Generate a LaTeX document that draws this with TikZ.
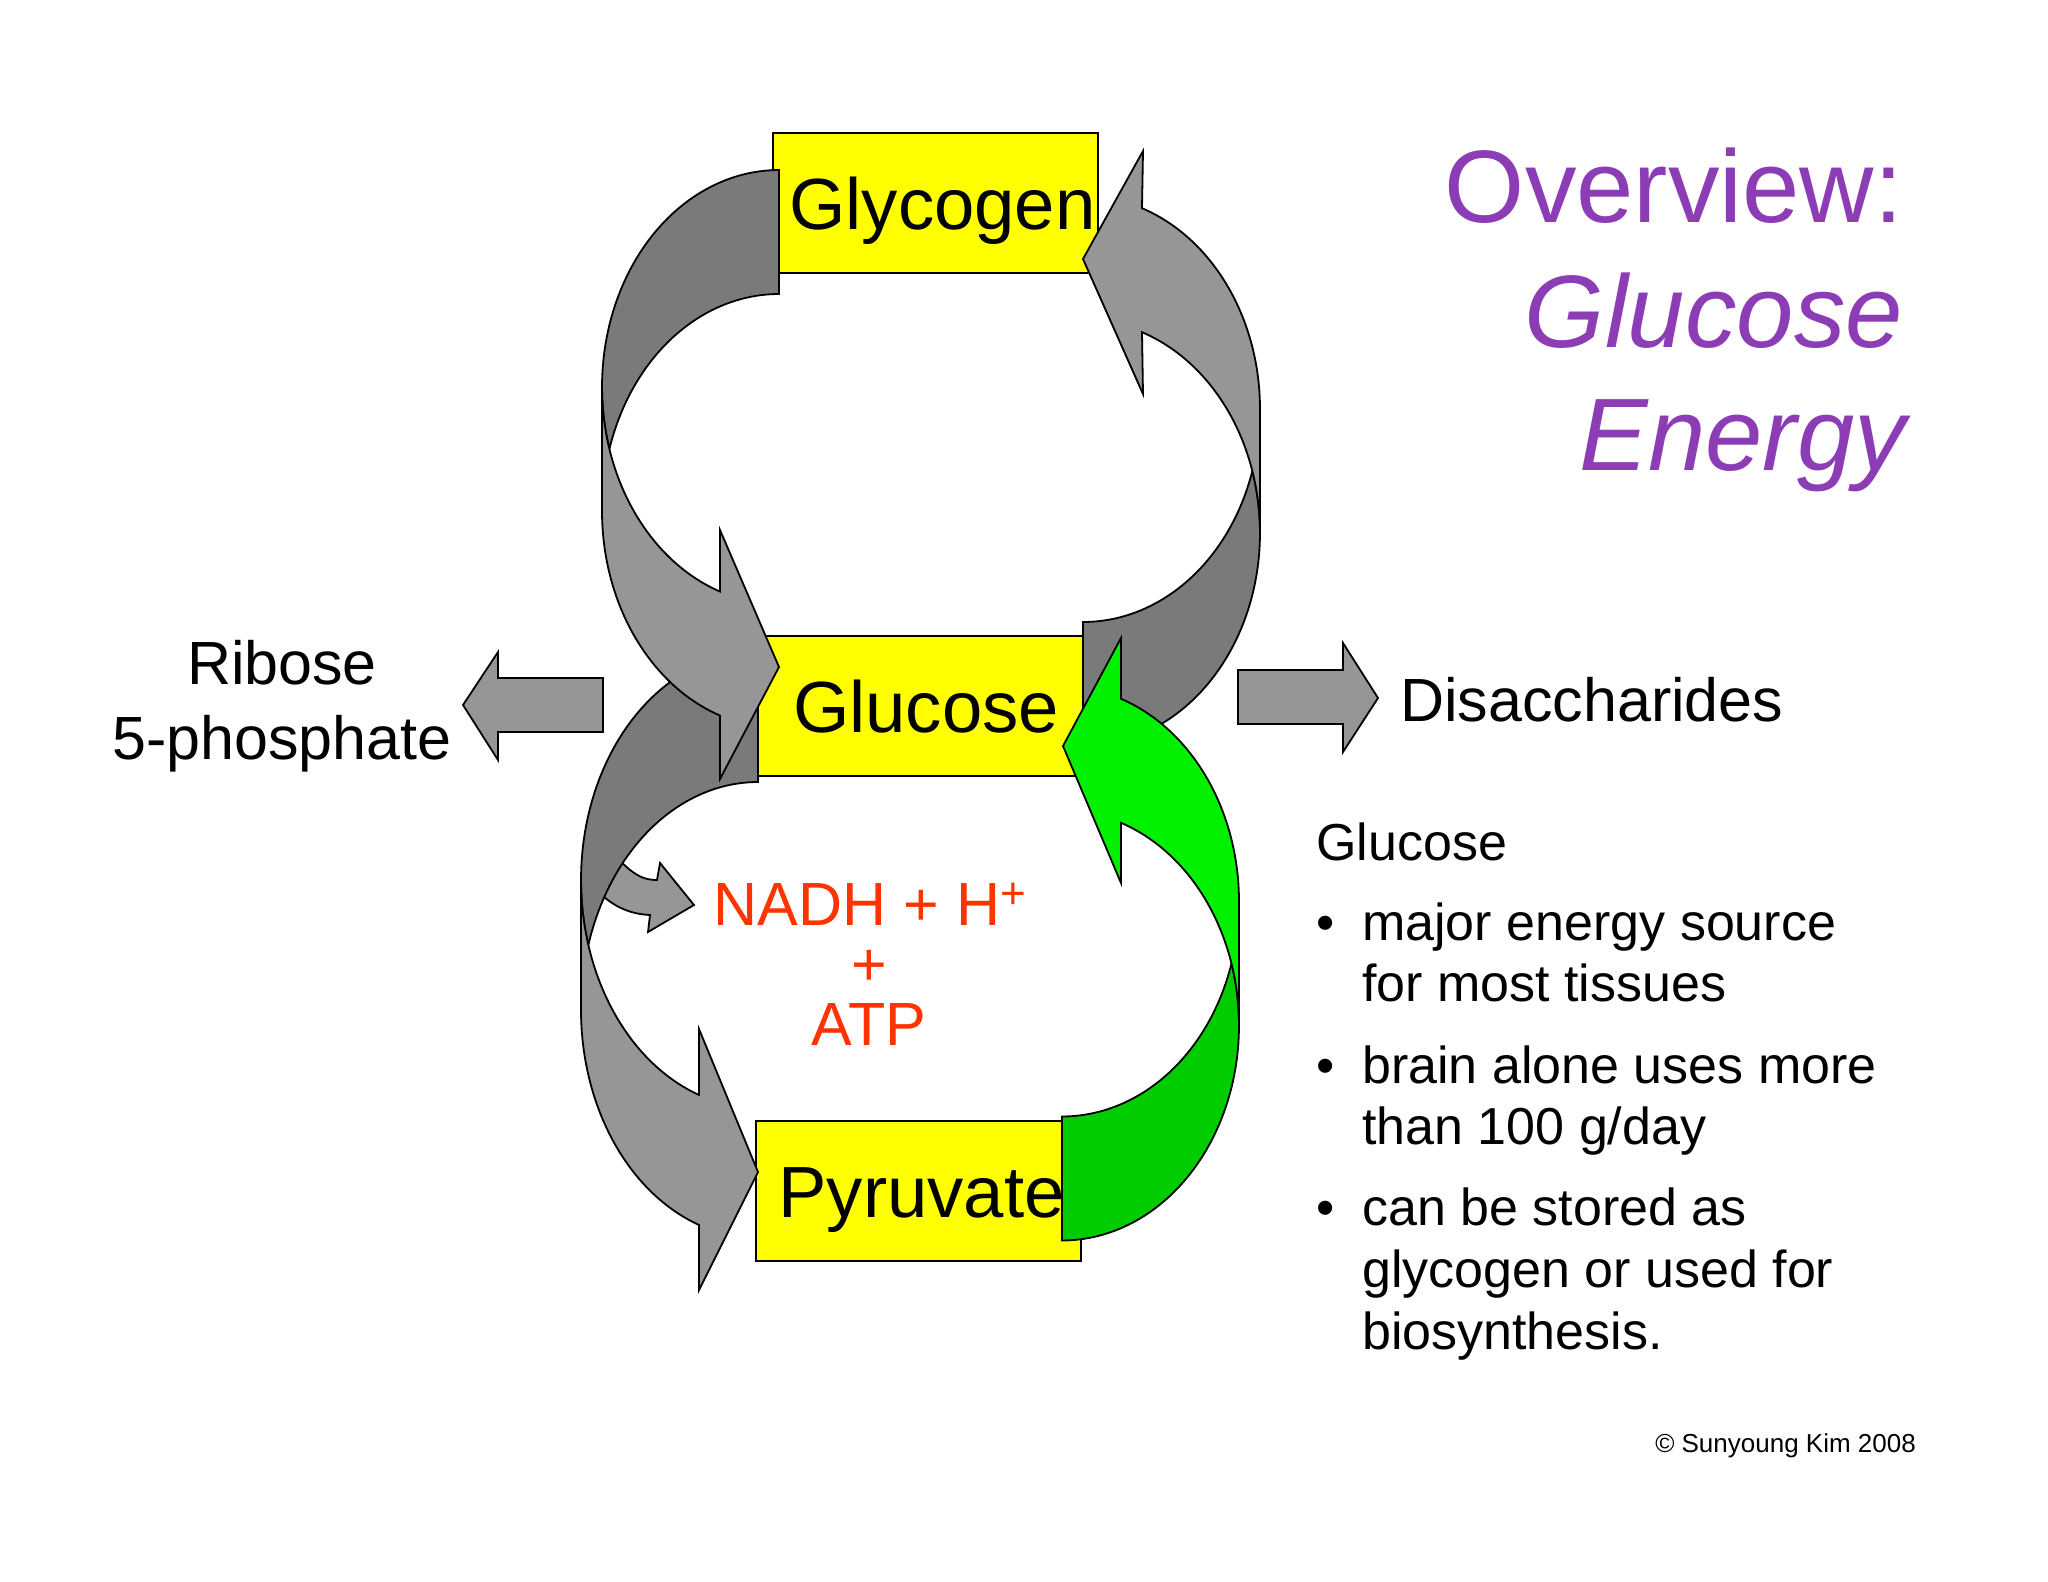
\documentclass[tikz,border=0pt]{standalone}
\usepackage{fontspec}
\setmainfont{Liberation Sans}
\definecolor{boxyellow}{RGB}{255,255,0}
\definecolor{frontgray}{RGB}{150,150,150}
\definecolor{backgray}{RGB}{122,122,122}
\definecolor{frontgreen}{RGB}{0,240,0}
\definecolor{backgreen}{RGB}{0,204,0}
\definecolor{titlepurple}{RGB}{140,60,180}
\definecolor{nadhred}{RGB}{255,51,0}

\begin{document}
\begin{tikzpicture}[x=1pt, y=-1pt,
    sugar/.style={draw, line width=1.8pt, fill=boxyellow, minimum width=325pt, minimum height=140pt,
        inner sep=0pt, font=\fontsize{72.5}{80}\selectfont, text height=52pt, text depth=0pt},
    band/.style={draw, line width=1.8pt},
    flat/.style={draw, line width=1.8pt, fill=frontgray},
    side/.style={font=\fontsize{61}{70}\selectfont, anchor=base, inner sep=0pt},
    title/.style={anchor=base east, inner sep=0pt, text=titlepurple, font=\fontsize{103}{120}\selectfont},
    note/.style={font=\fontsize{52}{61}\selectfont, anchor=base west, inner sep=0pt}]
    \fill[white] (0,0) rectangle (2048,1582);
    \useasboundingbox (0,0) rectangle (2048,1582);

    % SUGARS
    \node[sugar] (glycogen) at (935.5,203) {\hspace*{14pt}Glycogen};
    \node[sugar] (glucose) at (920,706) {\hspace*{12pt}Glucose};
    \node[sugar] (pyruvate) at (918.5,1191) {\hspace*{6pt}Pyruvate};

    % GLYCOLYSIS: GLUCOSE -> PYRUVATE
    \draw[flat] (604,842) .. controls (628,872) and (640,880) .. (657,880) -- (660,863) -- (694,905)
        -- (648,932) -- (650,915) .. controls (628,914) and (610,905) .. (595,888) -- cycle;
    \draw[band, fill=backgray] (758,782)
        -- plot[variable=\t, domain=270:196.56, samples=50] ({758+177*cos(\t)}, {1010+228*sin(\t)})
        -- plot[variable=\t, domain=163.44:270, samples=50] ({758+177*cos(\t)}, {880+228*sin(\t)}) -- cycle;
    \draw[band, fill=frontgray] (581,880)
        -- plot[variable=\t, domain=180:109.47, samples=50] ({758+177*cos(\t)}, {880+228*sin(\t)})
        -- (699,1029) -- (758,1172) -- (699,1290)
        -- plot[variable=\t, domain=109.47:180, samples=50] ({758+177*cos(\t)}, {1010+228*sin(\t)}) -- cycle;

    % GLYCOGEN -> GLUCOSE
    \draw[band, fill=backgray] (779,294)
        -- plot[variable=\t, domain=270:196.6, samples=50] ({779+177*cos(\t)}, {511+217*sin(\t)})
        -- plot[variable=\t, domain=163.4:270, samples=50] ({779+177*cos(\t)}, {387+217*sin(\t)}) -- cycle;
    \draw[band, fill=frontgray] (602,387)
        -- plot[variable=\t, domain=180:109.47, samples=50] ({779+177*cos(\t)}, {387+217*sin(\t)})
        -- (720,530) -- (779,667) -- (720,779)
        -- plot[variable=\t, domain=109.47:180, samples=50] ({779+177*cos(\t)}, {511+217*sin(\t)}) -- cycle;

    % GLUCOSE -> GLYCOGEN
    \draw[band, fill=backgray] (1083,622)
        -- plot[variable=\t, domain=90:16.9, samples=50] ({1083+177*cos(\t)}, {409+213*sin(\t)})
        -- plot[variable=\t, domain=-16.9:90, samples=50] ({1083+177*cos(\t)}, {533+213*sin(\t)}) -- cycle;
    \draw[band, fill=frontgray] (1260,533)
        -- plot[variable=\t, domain=0:-70.53, samples=50] ({1083+177*cos(\t)}, {533+213*sin(\t)})
        -- (1143,394) -- (1083,259) -- (1143,151)
        -- plot[variable=\t, domain=-70.53:0, samples=50] ({1083+177*cos(\t)}, {409+213*sin(\t)}) -- cycle;

    % GLUCONEOGENESIS: PYRUVATE -> GLUCOSE
    \draw[band, fill=backgreen] (1062,1116.5)
        -- plot[variable=\t, domain=90:16.76, samples=50] ({1062+177*cos(\t)}, {901.5+215*sin(\t)})
        -- plot[variable=\t, domain=-16.76:90, samples=50] ({1062+177*cos(\t)}, {1025.5+215*sin(\t)}) -- cycle;
    \draw[band, fill=frontgreen] (1239,1025.5)
        -- plot[variable=\t, domain=0:-70.53, samples=50] ({1062+177*cos(\t)}, {1025.5+215*sin(\t)})
        -- (1121,883) -- (1063,746) -- (1121,638)
        -- plot[variable=\t, domain=-70.53:0, samples=50] ({1062+177*cos(\t)}, {901.5+215*sin(\t)}) -- cycle;

    % SIDE BRANCHES
    \draw[flat] (603,678) -- (498,678) -- (498,652) -- (463,705) -- (498,760) -- (498,732) -- (603,732) -- cycle;
    \draw[flat] (1238,670) -- (1343,670) -- (1343,643) -- (1378,698) -- (1343,752) -- (1343,724) -- (1238,724) -- cycle;
    \node[side] (ribose) at (282,684) {Ribose};
    \node[side] (phosphate) at (282,759) {5-phosphate};
    \node[side, anchor=base west] (disacch) at (1400,721) {Disaccharides};

    % PRODUCTS
    \node[side, text=nadhred] (nadh) at (870,925) {NADH + H\raisebox{17pt}{\fontsize{44}{44}\selectfont +}};
    \node[side, text=nadhred] (plus) at (869,985) {+};
    \node[side, text=nadhred] (atp) at (869,1045) {ATP};

    % TITLE
    \node[title] (title1) at (1903,222) {Overview:};
    \node[title, font=\fontsize{103}{120}\selectfont\itshape] (title2) at (1903,347) {Glucose};
    \node[title, font=\fontsize{103}{120}\selectfont\itshape] (title3) at (1906,470) {Energy};

    % NOTES
    \node[note] (head) at (1316,860) {Glucose};
    \node[note, anchor=base] (dot1) at (1326,940) {•};
    \node[note] (n1a) at (1362,940) {major energy source};
    \node[note] (n1b) at (1362,1001) {for most tissues};
    \node[note, anchor=base] (dot2) at (1326,1083) {•};
    \node[note] (n2a) at (1362,1083) {brain alone uses more};
    \node[note] (n2b) at (1362,1144) {than 100 g/day};
    \node[note, anchor=base] (dot3) at (1326,1225) {•};
    \node[note] (n3a) at (1362,1225) {can be stored as};
    \node[note] (n3b) at (1362,1287) {glycogen or used for};
    \node[note] (n3c) at (1362,1349) {biosynthesis.};
    \node[anchor=base east, inner sep=0pt, font=\fontsize{26}{30}\selectfont] (copy) at (1916,1452) {© Sunyoung Kim 2008};
\end{tikzpicture}
\end{document}
